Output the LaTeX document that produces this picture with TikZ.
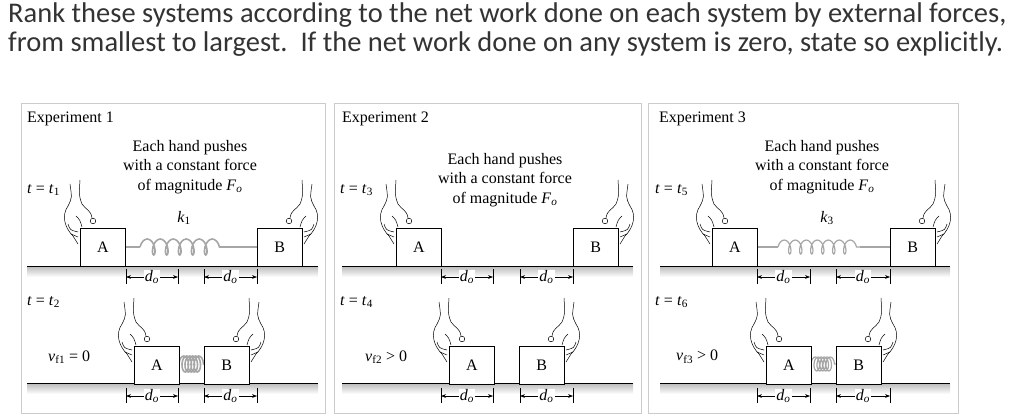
\documentclass[tikz,border=0pt]{standalone}
\usepackage{fontspec}
\setmainfont{Liberation Serif}
\newfontfamily\headfont{Carlito}
\usetikzlibrary{decorations.pathmorphing,arrows.meta,calc}
\newcommand{\vi}[1]{\textit{#1}}
\newcommand{\sub}[1]{\textsubscript{#1}}
\tikzset{
 panel/.style={draw=gray!40,line width=0.8pt},
 blk/.style={draw,line width=0.6pt,fill=white,minimum width=45pt,minimum height=38pt,inner sep=0pt,font=\fontsize{16}{16}\selectfont,anchor=north west},
 lbl/.style={font=\fontsize{16}{16}\selectfont,inner sep=0pt},
 captext/.style={font=\fontsize{16}{19.5}\selectfont,align=center,inner sep=0pt},
 dim/.style={{Stealth[length=5pt]}-{Stealth[length=5pt]},line width=0.5pt},
 hd/.style={line width=0.5pt},
 springc/.style={draw=gray!70,line width=1.6pt},
}
\newcommand{\hand}[3]{% x y xscale
 \begin{scope}[shift={(#1,#2)},xscale=#3]
 \draw[hd] (-10,-44) .. controls (-8,-30) .. (-12,-22) .. controls (-19,-12) and (-15,0) .. (-7,8) -- (-2,16);
 \draw[hd] (0,-48) .. controls (-1,-32) .. (2,-24) .. controls (6,-18) and (11,-18) .. (12,-10);
 \draw[hd] (13,-7) circle (2.8);
 \draw[hd] (-12,-4) .. controls (-10,2) .. (-2,4);
 \draw[hd] (-9,6) -- (-2,9);
 \draw[hd] (-4,-12) .. controls (0,-8) .. (2,-1);
 \end{scope}}
\newcommand{\ground}[3]{% x1 x2 y
 \shade[top color=gray!55,bottom color=white] (#1,#3) rectangle (#2,#3+11);
 \draw[line width=0.8pt] (#1,#3) -- (#2,#3);}
\newcommand{\dimd}[4]{% name x1 x2 y
 \coordinate (#1a) at (#2,#4); \coordinate (#1b) at (#3,#4);
 \draw[line width=0.5pt] (#2,#4-8) -- (#2,#4+7) (#3,#4-8) -- (#3,#4+7);
 \draw[dim] (#1a) -- (#1b);
 \node[lbl,fill=white,inner xsep=1pt] (#1l) at ($(#1a)!0.5!(#1b)$) {\vi{d}\sub{\vi{o}}};}
\begin{document}
\begin{tikzpicture}[x=1pt,y=-1pt]
\useasboundingbox (0,0) rectangle (1024,418);
\node[font=\headfont\fontsize{28.5}{29}\selectfont,color=black!80,align=left,anchor=north west,inner sep=0pt] (q) at (8,3)
 {Rank these systems according to the net work done on each system by external forces,\\from smallest to largest.\ \ If the net work done on any system is zero, state so explicitly.};
% panels
\draw[panel] (21,103) rectangle (325,413);
\draw[panel] (334,103) rectangle (641,413);
\draw[panel] (648,103) rectangle (958,413);
% ---------- Experiment 1
\node[lbl,anchor=west] (e1) at (27,119) {Experiment 1};
\node[captext] (c1) at (190,167) {Each hand pushes\\with a constant force\\of magnitude \vi{F}\sub{\vi{o}}};
\node[lbl,anchor=west] (t1) at (27,190) {\vi{t} = \vi{t}\sub{1}};
\node[lbl,anchor=west] (t2) at (27,302) {\vi{t} = \vi{t}\sub{2}};
\node[lbl,anchor=west] (v1) at (48,357) {\vi{v}\sub{f1} = 0};
\ground{27}{318}{266}
\draw[springc] (126,247) -- (140,247);
\draw[springc,decorate,decoration={coil,aspect=0.5,segment length=13pt,amplitude=8pt}] (140,247) -- (225,247);
\draw[springc] (225,247) -- (257,247);
\node[blk] (A1) at (80,228) {A};
\node[blk] (B1) at (257,228) {B};
\node[lbl] (k1) at (184,218) {\vi{k}\sub{1}};
\hand{80}{228}{1} \hand{302}{228}{-1}
\dimd{d1}{126}{178}{277} \dimd{d2}{204}{257}{277}
\ground{27}{318}{383}
\draw[springc,decorate,decoration={coil,aspect=0.5,segment length=3pt,amplitude=8pt}] (179,364) -- (204,364);
\node[blk] (A2) at (134,346) {A};
\node[blk] (B2) at (204,346) {B};
\hand{134}{346}{1} \hand{249}{346}{-1}
\dimd{d3}{126}{178}{396} \dimd{d4}{204}{257}{396}
% ---------- Experiment 2
\node[lbl,anchor=west] (e2) at (342,119) {Experiment 2};
\node[captext] (c2) at (505,180) {Each hand pushes\\with a constant force\\of magnitude \vi{F}\sub{\vi{o}}};
\node[lbl,anchor=west] (t3) at (340,190) {\vi{t} = \vi{t}\sub{3}};
\node[lbl,anchor=west] (t4) at (340,302) {\vi{t} = \vi{t}\sub{4}};
\node[lbl,anchor=west] (v2) at (365,357) {\vi{v}\sub{f2} > 0};
\ground{342}{633}{266}
\node[blk] (A3) at (396,228) {A};
\node[blk] (B3) at (573,228) {B};
\hand{396}{228}{1} \hand{618}{228}{-1}
\dimd{d5}{441}{493}{277} \dimd{d6}{520}{573}{277}
\ground{342}{633}{383}
\node[blk] (A4) at (449,346) {A};
\node[blk] (B4) at (519,346) {B};
\hand{449}{346}{1} \hand{564}{346}{-1}
\dimd{d7}{441}{493}{396} \dimd{d8}{520}{573}{396}
% ---------- Experiment 3
\node[lbl,anchor=west] (e3) at (659,119) {Experiment 3};
\node[captext] (c3) at (822,167) {Each hand pushes\\with a constant force\\of magnitude \vi{F}\sub{\vi{o}}};
\node[lbl,anchor=west] (t5) at (655,190) {\vi{t} = \vi{t}\sub{5}};
\node[lbl,anchor=west] (t6) at (655,302) {\vi{t} = \vi{t}\sub{6}};
\node[lbl,anchor=west] (v3) at (676,357) {\vi{v}\sub{f3} > 0};
\ground{660}{950}{266}
\draw[springc,line width=1.2pt] (757,247) -- (778,247);
\draw[springc,line width=1.2pt,decorate,decoration={coil,aspect=0.5,segment length=11pt,amplitude=7pt}] (778,247) -- (860,247);
\draw[springc,line width=1.2pt] (860,247) -- (890,247);
\node[blk] (A5) at (712,228) {A};
\node[blk] (B5) at (890,228) {B};
\node[lbl] (k3) at (827,218) {\vi{k}\sub{3}};
\hand{712}{228}{1} \hand{935}{228}{-1}
\dimd{d9}{757}{810}{277} \dimd{d10}{836}{890}{277}
\ground{660}{950}{383}
\draw[springc,line width=1.2pt,decorate,decoration={coil,aspect=0.5,segment length=3pt,amplitude=7pt}] (811,364) -- (836,364);
\node[blk] (A6) at (766,346) {A};
\node[blk] (B6) at (836,346) {B};
\hand{766}{346}{1} \hand{881}{346}{-1}
\dimd{d11}{757}{810}{396} \dimd{d12}{836}{890}{396}
\end{tikzpicture}
\end{document}
